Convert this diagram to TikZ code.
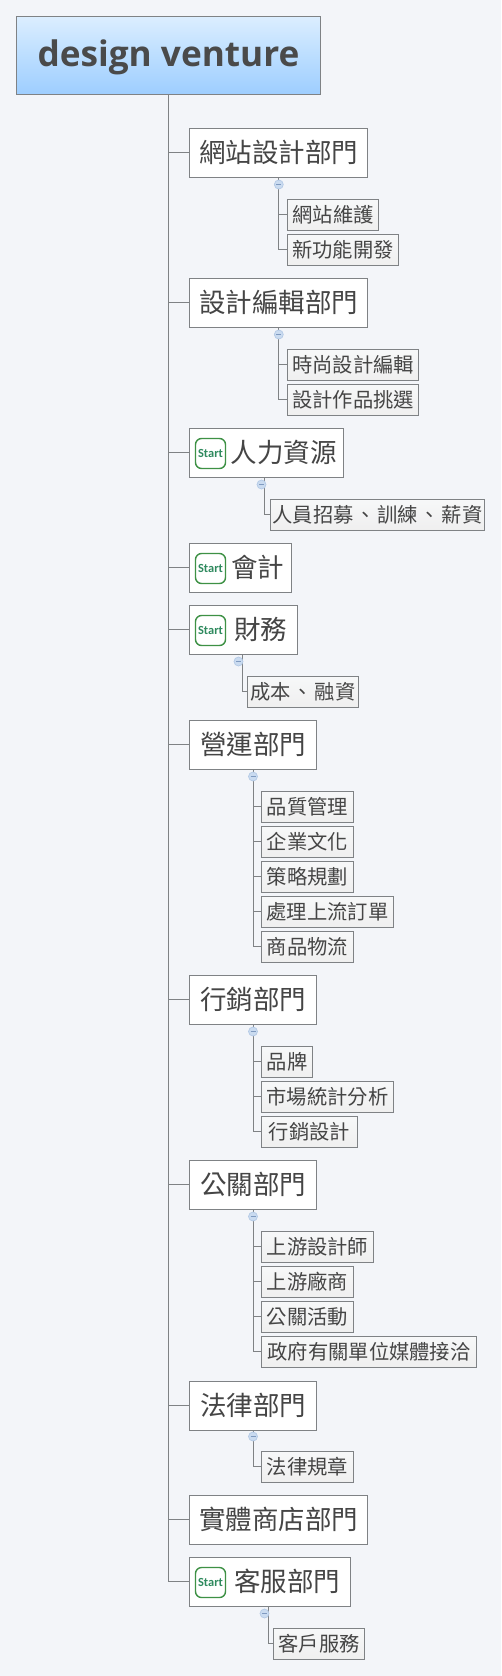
\documentclass[tikz,border=0pt]{standalone}
\usepackage{fontspec}
\setmainfont{Noto Sans CJK TC}
\newfontfamily\rootfont{Open Sans}
\newfontfamily\startfont{Carlito}
\definecolor{bgc}{HTML}{F3F5F9}
\definecolor{linec}{HTML}{7F8285}
\definecolor{txtc}{HTML}{454545}
\tikzset{
  rootbox/.style={anchor=north west,draw=linec,line width=1pt,top color=rootTop,bottom color=rootBot,middle color=rootMid,inner sep=0pt,outer sep=0pt,text=rootTxt,font=\rootfont\bfseries\fontsize{35.2}{35.2}\selectfont,text height=29pt,text depth=7pt},
  mainbox/.style={anchor=north west,draw=linec,line width=1pt,fill=white,inner sep=0pt,outer sep=0pt,minimum height=49pt,text=txtc,font=\fontsize{26.5}{26.5}\selectfont,text height=23pt,text depth=3pt},
  subbox/.style={anchor=north west,draw=linec,line width=1pt,top color=subTop,bottom color=subBot,inner sep=0pt,outer sep=0pt,minimum height=31pt,text=txtc,font=\fontsize{20.3}{20.3}\selectfont,text height=18pt,text depth=2.4pt},
  link/.style={draw=linec,line width=1pt},
  collapse/.style={circle,draw=colEdge,fill=colFill,line width=.7pt,minimum size=9pt,inner sep=0pt,outer sep=0pt,path picture={\draw[colMinus,line width=.8pt] ([xshift=-2.5pt]path picture bounding box.center) -- ([xshift=2.5pt]path picture bounding box.center);}},
  startbox/.style={anchor=north west,rounded corners=6pt,draw=startGreen,line width=1.4pt,fill=white,minimum width=30pt,minimum height=30pt,inner sep=0pt,outer sep=0pt,text=startTxt,font=\startfont\bfseries\fontsize{12.4}{12.4}\selectfont},
}
\definecolor{rootTop}{HTML}{DCEEFF}
\definecolor{rootMid}{HTML}{BCDEFF}
\definecolor{rootBot}{HTML}{9ECEFF}
\definecolor{rootTxt}{HTML}{4A4A4A}
\definecolor{subTop}{HTML}{F7F8F9}
\definecolor{subBot}{HTML}{EFEFEF}
\definecolor{colEdge}{HTML}{B4CAE6}
\definecolor{colFill}{HTML}{CADBF0}
\definecolor{colMinus}{HTML}{7F9AC0}
\definecolor{startGreen}{HTML}{3E9145}
\definecolor{startTxt}{HTML}{2F8A5E}
\newcommand{\iconsp}{\hspace*{34pt}}
\newcommand{\cm}{\hspace{1.5pt}、\hspace{2pt}}
\begin{document}
\begin{tikzpicture}[x=1pt,y=-1pt]
\useasboundingbox (0,0) rectangle (501,1676);
\fill[bgc] (0,0) rectangle (501,1676);
\begin{scope}[shift={(0.5,0)}]
% root
\node[rootbox,minimum width=304pt,minimum height=78pt] (root) at (16,16) {design venture};
% main boxes
\node[mainbox,minimum width=178pt] (m1) at (189,128) {網站設計部門};
\node[mainbox,minimum width=178pt] (m2) at (189,278) {設計編輯部門};
\node[mainbox,minimum width=154pt] (m3) at (189,428) {\iconsp 人力資源};
\node[mainbox,minimum width=102pt] (m4) at (189,543) {\iconsp 會計};
\node[mainbox,minimum width=108pt] (m5) at (189,605) {\iconsp 財務};
\node[mainbox,minimum width=127pt] (m6) at (189,720) {營運部門};
\node[mainbox,minimum width=127pt] (m7) at (189,975) {行銷部門};
\node[mainbox,minimum width=127pt] (m8) at (189,1160) {公關部門};
\node[mainbox,minimum width=127pt] (m9) at (189,1381) {法律部門};
\node[mainbox,minimum width=178pt] (m10) at (189,1495) {實體商店部門};
\node[mainbox,minimum width=161pt] (m11) at (189,1557) {\iconsp 客服部門};
% start icons
\node[startbox] (i3) at (195,438.5) {Start};
\node[startbox] (i4) at (195,553.5) {Start};
\node[startbox] (i5) at (195,615.5) {Start};
\node[startbox] (i11) at (195,1567.5) {Start};
% sub boxes
\node[subbox,minimum width=91pt] (s11) at (287,199) {網站維護};
\node[subbox,minimum width=111pt] (s12) at (287,234) {新功能開發};
\node[subbox,minimum width=131pt] (s21) at (287,349) {時尚設計編輯};
\node[subbox,minimum width=131pt] (s22) at (287,384) {設計作品挑選};
\node[subbox,minimum width=214pt] (s31) at (270,499) {人員招募\cm 訓練\cm 薪資};
\node[subbox,minimum width=111pt] (s51) at (247,676) {成本\cm 融資};
\node[subbox,minimum width=92pt] (s61) at (261,791) {品質管理};
\node[subbox,minimum width=92pt] (s62) at (261,826) {企業文化};
\node[subbox,minimum width=92pt] (s63) at (261,861) {策略規劃};
\node[subbox,minimum width=132pt] (s64) at (261,896) {處理上流訂單};
\node[subbox,minimum width=92pt] (s65) at (261,931) {商品物流};
\node[subbox,minimum width=51pt] (s71) at (261,1046) {品牌};
\node[subbox,minimum width=132pt] (s72) at (261,1081) {市場統計分析};
\node[subbox,minimum width=96pt] (s73) at (261,1116) {行銷設計};
\node[subbox,minimum width=112pt] (s81) at (261,1231) {上游設計師};
\node[subbox,minimum width=92pt] (s82) at (261,1266) {上游廠商};
\node[subbox,minimum width=92pt] (s83) at (261,1301) {公關活動};
\node[subbox,minimum width=215pt] (s84) at (261,1336) {政府有關單位媒體接洽};
\node[subbox,minimum width=92pt] (s91) at (261,1451) {法律規章};
\node[subbox,minimum width=91pt] (s111) at (273,1628) {客戶服務};
% trunk
\foreach \m in {m1,m2,m3,m4,m5,m6,m7,m8,m9,m10,m11}
  \draw[link] (root.south) |- (\m.west);
% branches
\foreach \s in {s11,s12} \draw[link] (m1.south) |- (\s.west);
\foreach \s in {s21,s22} \draw[link] (m2.south) |- (\s.west);
\draw[link] ([xshift=-2pt]m3.south) |- (s31.west);
\draw[link] ([xshift=-1.5pt]m5.south) |- (s51.west);
\foreach \s in {s61,s62,s63,s64,s65} \draw[link] (m6.south) |- (\s.west);
\foreach \s in {s71,s72,s73} \draw[link] (m7.south) |- (\s.west);
\foreach \s in {s81,s82,s83,s84} \draw[link] (m8.south) |- (\s.west);
\draw[link] (m9.south) |- (s91.west);
\draw[link] ([xshift=-1.5pt]m11.south) |- (s111.west);
% collapse buttons
\node[collapse] (c1) at (278.3,184.5) {};
\node[collapse] (c2) at (278.3,334.5) {};
\node[collapse] (c3) at (261,484.5) {};
\node[collapse] (c5) at (238,661.5) {};
\node[collapse] (c6) at (252.5,776.5) {};
\node[collapse] (c7) at (252.5,1031.5) {};
\node[collapse] (c8) at (252.5,1216.5) {};
\node[collapse] (c9) at (252.5,1436.5) {};
\node[collapse] (c11) at (264,1613.5) {};
\end{scope}
\end{tikzpicture}
\end{document}
